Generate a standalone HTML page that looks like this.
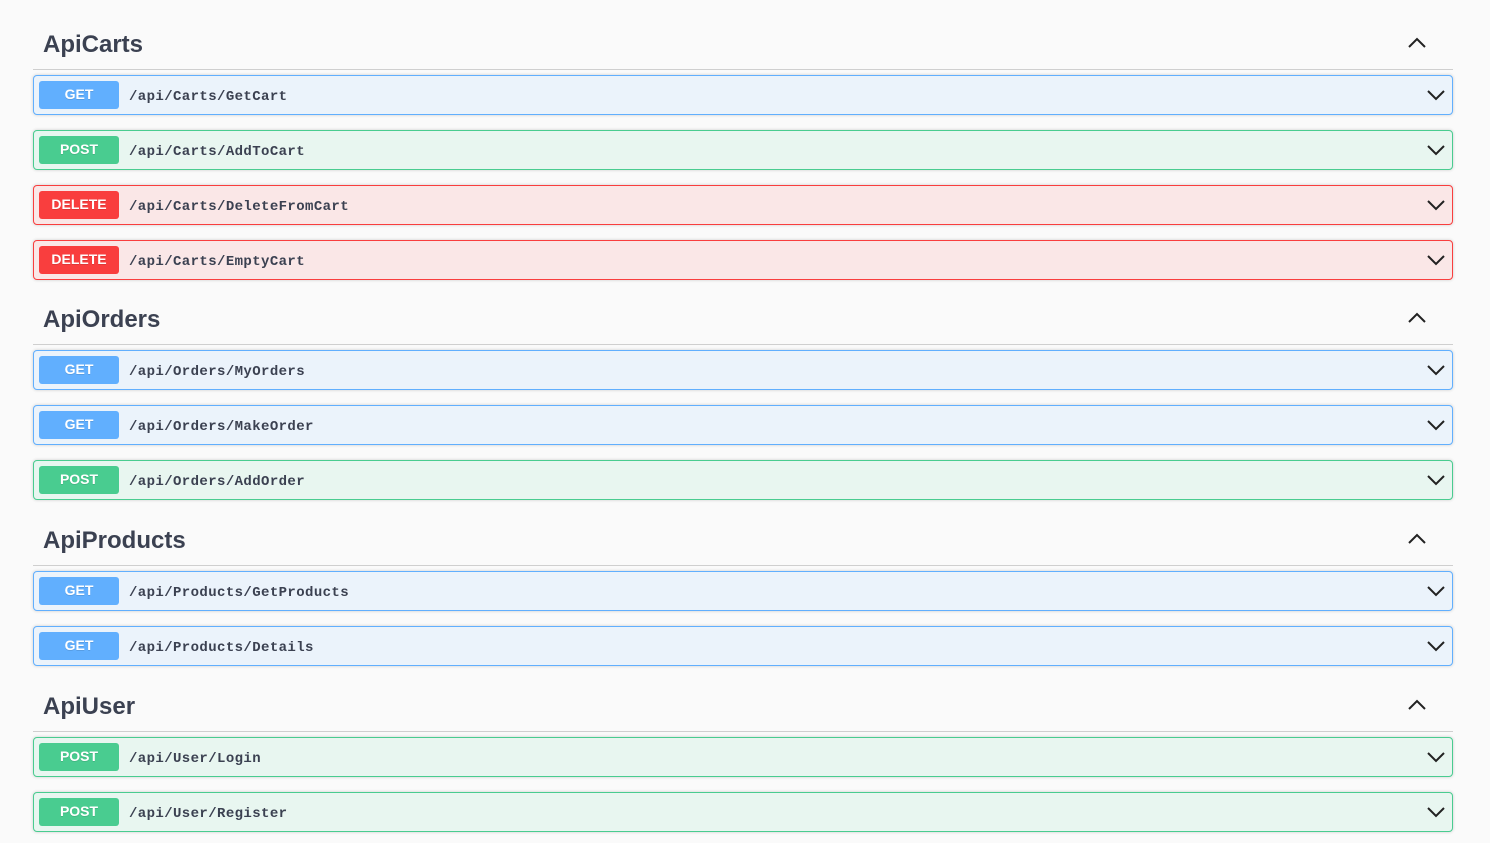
<!DOCTYPE html>
<html><head><meta charset="utf-8"><style>
body{margin:0;background:#fafafa;width:1490px;height:843px;overflow:hidden;position:relative;font-family:"Liberation Sans",sans-serif}
.h{position:absolute;left:43px;font-size:24px;font-weight:bold;color:#3b4151;line-height:30px;margin-top:1px}
.line{position:absolute;left:33px;width:1420px;height:1px;background:#cfcfcf}
.up{position:absolute;left:1407px;width:20px;height:12px}
.r{position:absolute;left:33px;width:1418px;height:38px;border:1px solid;border-radius:4px;box-shadow:0 0 3px rgba(0,0,0,.19)}
.b{position:absolute;left:5px;top:5px;width:80px;height:28px;border-radius:3px;color:#fff;font-weight:bold;font-size:14px;text-align:center;line-height:27px;text-shadow:0 1px 0 rgba(0,0,0,.1)}
.p{position:absolute;left:95px;top:2px;line-height:38px;font-family:"Liberation Mono",monospace;font-weight:bold;font-size:14px;letter-spacing:0.4px;color:#3b4151}
.dn{position:absolute;right:6px;top:13px;width:20px;height:12px}
.g{background:#ebf3fb;border-color:#61affe}.g .b{background:#61affe}
.po{background:#e8f6f0;border-color:#49cc90}.po .b{background:#49cc90}
.d{background:#fae7e7;border-color:#f93e3e}.d .b{background:#f93e3e}
</style></head><body>
<svg width="0" height="0" style="position:absolute"><defs>
<symbol id="u" viewBox="0 0 20 12"><path d="M2 10 L10 2 L18 10" fill="none" stroke="#222" stroke-width="2"/></symbol>
<symbol id="v" viewBox="0 0 20 12"><path d="M2 2 L10 10 L18 2" fill="none" stroke="#222" stroke-width="2"/></symbol>
</defs></svg>

<div class="h" style="top:29px">ApiCarts</div><svg class="up" style="top:37px"><use href="#u"/></svg><div class="line" style="top:69px"></div>
<div class="r g" style="top:75px"><div class="b">GET</div><div class="p">/api/Carts/GetCart</div><svg class="dn"><use href="#v"/></svg></div>
<div class="r po" style="top:130px"><div class="b">POST</div><div class="p">/api/Carts/AddToCart</div><svg class="dn"><use href="#v"/></svg></div>
<div class="r d" style="top:185px"><div class="b">DELETE</div><div class="p">/api/Carts/DeleteFromCart</div><svg class="dn"><use href="#v"/></svg></div>
<div class="r d" style="top:240px"><div class="b">DELETE</div><div class="p">/api/Carts/EmptyCart</div><svg class="dn"><use href="#v"/></svg></div>

<div class="h" style="top:304px">ApiOrders</div><svg class="up" style="top:312px"><use href="#u"/></svg><div class="line" style="top:344px"></div>
<div class="r g" style="top:350px"><div class="b">GET</div><div class="p">/api/Orders/MyOrders</div><svg class="dn"><use href="#v"/></svg></div>
<div class="r g" style="top:405px"><div class="b">GET</div><div class="p">/api/Orders/MakeOrder</div><svg class="dn"><use href="#v"/></svg></div>
<div class="r po" style="top:460px"><div class="b">POST</div><div class="p">/api/Orders/AddOrder</div><svg class="dn"><use href="#v"/></svg></div>

<div class="h" style="top:525px">ApiProducts</div><svg class="up" style="top:533px"><use href="#u"/></svg><div class="line" style="top:565px"></div>
<div class="r g" style="top:571px"><div class="b">GET</div><div class="p">/api/Products/GetProducts</div><svg class="dn"><use href="#v"/></svg></div>
<div class="r g" style="top:626px"><div class="b">GET</div><div class="p">/api/Products/Details</div><svg class="dn"><use href="#v"/></svg></div>

<div class="h" style="top:691px">ApiUser</div><svg class="up" style="top:699px"><use href="#u"/></svg><div class="line" style="top:731px"></div>
<div class="r po" style="top:737px"><div class="b">POST</div><div class="p">/api/User/Login</div><svg class="dn"><use href="#v"/></svg></div>
<div class="r po" style="top:792px"><div class="b">POST</div><div class="p">/api/User/Register</div><svg class="dn"><use href="#v"/></svg></div>
</body></html>
